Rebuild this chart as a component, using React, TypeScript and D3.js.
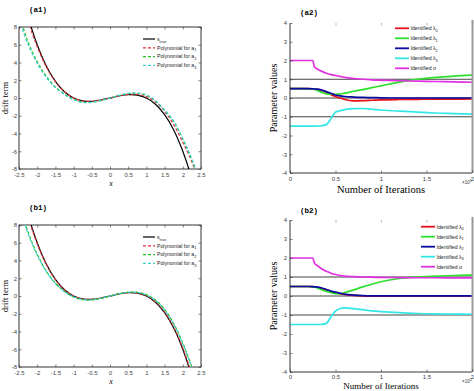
import React, { useEffect, useRef } from 'react';
import * as d3 from 'd3';

// ---- drift panels (a1, b1) ----
const driftX = [-2.5, -2.25, -2, -1.75, -1.5, -1.25, -1, -0.75, -0.5, -0.25, 0, 0.25, 0.5, 0.75, 1, 1.25, 1.5, 1.75, 2, 2.25, 2.5];
const driftTrue = [13.1, 9.14, 6, 3.61, 1.88, 0.7, 0, -0.33, -0.38, -0.23, 0, 0.23, 0.38, 0.33, 0, -0.7, -1.88, -3.61, -6, -9.14, -13.1];
const a1Poly1 = [12.5, 8.7, 5.8, 3.5, 1.85, 0.7, 0, -0.33, -0.37, -0.22, 0, 0.24, 0.4, 0.4, 0.15, -0.45, -1.5, -3.0, -5.0, -7.2, -10];
const a1Poly2 = [9.5, 6.3, 4.1, 2.45, 1.25, 0.45, -0.15, -0.45, -0.48, -0.28, 0, 0.28, 0.5, 0.52, 0.3, -0.35, -1.4, -2.65, -4.6, -7.0, -9.7];
const a1Poly3 = [8.8, 6.0, 3.9, 2.3, 1.15, 0.4, -0.2, -0.5, -0.5, -0.3, 0, 0.3, 0.52, 0.55, 0.35, -0.3, -1.35, -2.6, -4.6, -6.9, -9.6];
const b1Poly1 = [12.6, 8.9, 5.9, 3.55, 1.85, 0.68, 0, -0.34, -0.38, -0.23, 0, 0.23, 0.37, 0.33, 0.02, -0.66, -1.8, -3.5, -5.85, -8.9, -12.8];
const b1Poly2 = [10.5, 7.2, 4.7, 2.8, 1.45, 0.5, -0.12, -0.42, -0.45, -0.26, 0, 0.26, 0.43, 0.42, 0.15, -0.45, -1.5, -3.1, -5.3, -8.0, -11.3];
const b1Poly3 = [10.2, 7.0, 4.6, 2.75, 1.42, 0.5, -0.1, -0.4, -0.44, -0.25, 0, 0.25, 0.42, 0.4, 0.12, -0.5, -1.6, -3.2, -5.4, -8.1, -11.5];
const driftTicksX = [-2.5, -2, -1.5, -1, -0.5, 0, 0.5, 1, 1.5, 2, 2.5];
const driftTicksY = [-8, -6, -4, -2, 0, 2, 4, 6, 8];

// ---- parameter panels (a2, b2), iterations in units of 10^5 ----
const iterX = [0, 0.1, 0.2, 0.25, 0.27, 0.3, 0.35, 0.4, 0.45, 0.5, 0.55, 0.6, 0.7, 0.8, 0.9, 1.0, 1.2, 1.4, 1.6, 1.8, 2.0];
const a2Lambda0 = [0.5, 0.5, 0.5, 0.48, 0.47, 0.45, 0.4, 0.3, 0.18, 0.08, 0.0, -0.08, -0.15, -0.14, -0.12, -0.1, -0.08, -0.07, -0.06, -0.06, -0.05];
const a2Lambda1 = [0.5, 0.5, 0.49, 0.48, 0.46, 0.4, 0.3, 0.22, 0.2, 0.2, 0.22, 0.26, 0.36, 0.45, 0.55, 0.65, 0.85, 1.0, 1.1, 1.17, 1.22];
const a2Lambda2 = [0.5, 0.5, 0.5, 0.49, 0.48, 0.47, 0.42, 0.34, 0.25, 0.16, 0.11, 0.08, 0.05, 0.03, 0.02, 0.01, 0, 0, 0, 0, 0];
const a2Lambda3 = [-1.5, -1.5, -1.5, -1.5, -1.5, -1.5, -1.48, -1.42, -1.1, -0.75, -0.68, -0.62, -0.57, -0.56, -0.6, -0.64, -0.7, -0.75, -0.8, -0.83, -0.86];
const a2Sigma = [2, 2, 2, 2, 1.65, 1.55, 1.42, 1.32, 1.25, 1.2, 1.15, 1.1, 1.04, 1.0, 0.97, 0.95, 0.92, 0.9, 0.88, 0.86, 0.84];
const b2Lambda0 = [0.5, 0.5, 0.5, 0.49, 0.48, 0.46, 0.4, 0.32, 0.24, 0.17, 0.12, 0.08, 0.03, 0, -0.01, -0.01, 0, 0, 0, 0, 0];
const b2Lambda1 = [0.5, 0.5, 0.5, 0.48, 0.46, 0.42, 0.32, 0.24, 0.18, 0.13, 0.12, 0.18, 0.32, 0.48, 0.62, 0.75, 0.92, 1.0, 1.05, 1.08, 1.1];
const b2Lambda2 = [0.5, 0.5, 0.5, 0.49, 0.48, 0.47, 0.42, 0.34, 0.26, 0.2, 0.15, 0.1, 0.05, 0.02, 0.01, 0.01, 0.01, 0.01, 0.01, 0.01, 0.01];
const b2Lambda3 = [-1.5, -1.5, -1.5, -1.5, -1.5, -1.5, -1.49, -1.44, -1.1, -0.8, -0.66, -0.62, -0.66, -0.72, -0.78, -0.82, -0.88, -0.92, -0.94, -0.95, -0.96];
const b2Sigma = [2, 2, 2, 2, 1.72, 1.6, 1.42, 1.3, 1.2, 1.13, 1.08, 1.05, 1.02, 1.0, 0.99, 0.98, 0.97, 0.96, 0.96, 0.95, 0.95];
const iterTicksX = [0, 0.5, 1, 1.5, 2];
const iterTicksY = [-4, -3, -2, -1, 0, 1, 2, 3, 4];
const refLines = [1, 0, -1];

type Box = { left: number; right: number; top: number; bottom: number };
type Series = { base: string; sub?: string; values: number[]; color: string; dash?: string };

const SANS = 'Liberation Sans, Arial, sans-serif';
const SERIF = 'Liberation Serif, Times New Roman, serif';
const fmt = (d: d3.NumberValue) => String(d);

function styleAxis(g: d3.Selection<SVGGElement, unknown, null, undefined>) {
  g.attr('font-size', null).attr('font-family', null);
  g.select('.domain').remove();
  g.selectAll('line').attr('stroke', '#333').attr('stroke-width', 0.6);
  g.selectAll('text').attr('font-size', 6).attr('font-family', SANS).attr('fill', '#444');
}

function Label({ base, sub, x, y, size }: { base: string; sub?: string; x: number; y: number; size: number }) {
  return (
    <text x={x} y={y} fontSize={size} fontFamily={SANS} fill="#222">
      {base}
      {sub && <tspan dy={size * 0.35} fontSize={size * 0.75}>{sub}</tspan>}
    </text>
  );
}

function DriftPanel({ id, box, series, title, titleY, legendTop }: { id: string; box: Box; series: Series[]; title: string; titleY: number; legendTop: number }) {
  const leftRef = useRef<SVGGElement>(null);
  const bottomRef = useRef<SVGGElement>(null);
  const topRef = useRef<SVGGElement>(null);
  const rightRef = useRef<SVGGElement>(null);
  const x = d3.scaleLinear().domain([-2.5, 2.5]).range([box.left, box.right]);
  const y = d3.scaleLinear().domain([-8, 8]).range([box.bottom, box.top]);

  useEffect(() => {
    const l = d3.select(leftRef.current!);
    l.call(d3.axisLeft(y).tickValues(driftTicksY).tickSize(-2.5).tickSizeOuter(0).tickPadding(2).tickFormat(fmt));
    styleAxis(l);
    const b = d3.select(bottomRef.current!);
    b.call(d3.axisBottom(x).tickValues(driftTicksX).tickSize(-2.5).tickSizeOuter(0).tickPadding(4).tickFormat(fmt));
    styleAxis(b);
    const t = d3.select(topRef.current!);
    t.call(d3.axisTop(x).tickValues(driftTicksX).tickSize(-2.5).tickSizeOuter(0).tickFormat(() => ''));
    styleAxis(t);
    const r = d3.select(rightRef.current!);
    r.call(d3.axisRight(y).tickValues(driftTicksY).tickSize(-2.5).tickSizeOuter(0).tickFormat(() => ''));
    styleAxis(r);
  }, []);

  const line = d3.line<number>().x((_, i) => x(driftX[i])).y((d) => y(d)).curve(d3.curveCatmullRom);
  const midY = (box.top + box.bottom) / 2;

  return (
    <g>
      <defs>
        <clipPath id={id}>
          <rect x={box.left} y={box.top} width={box.right - box.left} height={box.bottom - box.top} />
        </clipPath>
      </defs>
      <rect x={box.left} y={box.top} width={box.right - box.left} height={box.bottom - box.top} fill="#fff" stroke="#000" strokeWidth={0.8} />
      <g clipPath={`url(#${id})`}>
        {series.map((s, i) => (
          <path key={i} d={line(s.values) ?? ''} fill="none" stroke={s.color} strokeWidth={1.2} strokeDasharray={s.dash} />
        ))}
      </g>
      <g ref={leftRef} transform={`translate(${box.left},0)`} />
      <g ref={bottomRef} transform={`translate(0,${box.bottom})`} />
      <g ref={topRef} transform={`translate(0,${box.top})`} />
      <g ref={rightRef} transform={`translate(${box.right},0)`} />
      {series.map((s, i) => {
        const ly = legendTop + i * 8.8;
        return (
          <g key={i}>
            <line x1={143} x2={155} y1={ly} y2={ly} stroke={s.color} strokeWidth={1.2} strokeDasharray={s.dash} />
            <Label base={s.base} sub={s.sub} x={157} y={ly + 1.8} size={5.2} />
          </g>
        );
      })}
      <text x={29} y={titleY} fontSize={7.5} fontWeight="bold" fontFamily="Liberation Mono, Courier New, monospace">{title}</text>
      <text x={111} y={box.bottom + 17} fontSize={8} fontStyle="italic" fontFamily={SERIF} textAnchor="middle">x</text>
      <text transform={`translate(8,${midY}) rotate(-90)`} fontSize={8.5} fontFamily={SERIF} textAnchor="middle">drift term</text>
    </g>
  );
}

function ParamPanel({ id, box, series, title, titleY, legend, xTitleY, xTitleSize, tickPad }: { id: string; box: Box; series: Series[]; title: string; titleY: number; legend: { x: number; y: number }; xTitleY: number; xTitleSize: number; tickPad: number }) {
  const leftRef = useRef<SVGGElement>(null);
  const bottomRef = useRef<SVGGElement>(null);
  const topRef = useRef<SVGGElement>(null);
  const x = d3.scaleLinear().domain([0, 2]).range([box.left, box.right]);
  const y = d3.scaleLinear().domain([-4, 4]).range([box.bottom, box.top]);

  useEffect(() => {
    const l = d3.select(leftRef.current!);
    l.call(d3.axisLeft(y).tickValues(iterTicksY).tickSize(-2.5).tickSizeOuter(0).tickPadding(3).tickFormat(fmt));
    styleAxis(l);
    const b = d3.select(bottomRef.current!);
    b.call(d3.axisBottom(x).tickValues(iterTicksX).tickSize(-2.5).tickSizeOuter(0).tickPadding(tickPad).tickFormat(fmt));
    styleAxis(b);
    const t = d3.select(topRef.current!);
    t.call(d3.axisTop(x).tickValues(iterTicksX).tickSize(-2.5).tickSizeOuter(0).tickFormat(() => ''));
    styleAxis(t);
    t.selectAll('line').attr('stroke', '#888');
  }, []);

  const line = d3.line<number>().x((_, i) => x(iterX[i])).y((d) => y(d)).curve(d3.curveMonotoneX);
  const midY = (box.top + box.bottom) / 2;
  const midX = (box.left + box.right) / 2;

  return (
    <g>
      <defs>
        <clipPath id={id}>
          <rect x={box.left} y={box.top} width={box.right - box.left} height={box.bottom - box.top} />
        </clipPath>
      </defs>
      <g clipPath={`url(#${id})`}>
        {refLines.map((v) => (
          <line key={v} x1={box.left} x2={box.right} y1={y(v)} y2={y(v)} stroke="#444" strokeWidth={1} />
        ))}
        {series.map((s, i) => (
          <path key={i} d={line(s.values) ?? ''} fill="none" stroke={s.color} strokeWidth={1.7} />
        ))}
      </g>
      <line x1={box.left} x2={box.left} y1={box.top} y2={box.bottom} stroke="#000" strokeWidth={0.8} />
      <line x1={box.left} x2={box.right} y1={box.bottom} y2={box.bottom} stroke="#000" strokeWidth={0.8} />
      <line x1={box.right + 0.5} x2={box.right + 0.5} y1={box.top - 3} y2={box.bottom} stroke="#999" strokeWidth={2} />
      <g ref={leftRef} transform={`translate(${box.left},0)`} />
      <g ref={bottomRef} transform={`translate(0,${box.bottom})`} />
      <g ref={topRef} transform={`translate(0,${box.top})`} />
      {series.map((s, i) => {
        const ly = legend.y + i * 10;
        return (
          <g key={i}>
            <line x1={legend.x} x2={legend.x + 14} y1={ly} y2={ly} stroke={s.color} strokeWidth={1.8} />
            <Label base={s.base} sub={s.sub} x={legend.x + 15.5} y={ly + 1.8} size={5.2} />
          </g>
        );
      })}
      <text x={box.left + 10} y={titleY} fontSize={7.5} fontWeight="bold" fontFamily="Liberation Mono, Courier New, monospace">{title}</text>
      <text x={midX} y={xTitleY} fontSize={xTitleSize} fontFamily={SERIF} textAnchor="middle">Number of Iterations</text>
      <text x={462} y={box.bottom + 11} fontSize={4.5} fontFamily={SANS} fill="#333">
        ×10<tspan dy={-2} fontSize={3.5}>5</tspan>
      </text>
      <text transform={`translate(${box.left - 13},${midY}) rotate(-90)`} fontSize={10} fontFamily={SERIF} textAnchor="middle">Parameter values</text>
    </g>
  );
}

const RED = '#e8101a';
const GREEN = '#2ee02e';
const BLUE = '#0a0aa0';
const CYAN = '#33e6e6';
const MAGENTA = '#e030e0';

const driftSeries = (p1: number[], p2: number[], p3: number[]): Series[] => [
  { base: 's', sub: 'true', values: driftTrue, color: '#000' },
  { base: 'Polynomial for a', sub: '1', values: p1, color: '#e0303a', dash: '3,2' },
  { base: 'Polynomial for a', sub: '2', values: p2, color: '#22c022', dash: '3,2' },
  { base: 'Polynomial for a', sub: '3', values: p3, color: '#40d0d8', dash: '3,2' },
];

const paramSeries = (l0: number[], l1: number[], l2: number[], l3: number[], s: number[]): Series[] => [
  { base: 'Identified λ', sub: '0', values: l0, color: RED },
  { base: 'Identified λ', sub: '1', values: l1, color: GREEN },
  { base: 'Identified λ', sub: '2', values: l2, color: BLUE },
  { base: 'Identified λ', sub: '3', values: l3, color: CYAN },
  { base: 'Identified σ', values: s, color: MAGENTA },
];

export default function App() {
  return (
    <svg width={474} height={391} style={{ position: 'absolute', left: 0, top: 0, background: '#fff' }}>
      <DriftPanel id="clip-a1" box={{ left: 19, right: 201, top: 27, bottom: 169 }} series={driftSeries(a1Poly1, a1Poly2, a1Poly3)} title="(a1)" titleY={12} legendTop={39} />
      <DriftPanel id="clip-b1" box={{ left: 19, right: 201, top: 225, bottom: 367 }} series={driftSeries(b1Poly1, b1Poly2, b1Poly3)} title="(b1)" titleY={210} legendTop={237} />
      <ParamPanel id="clip-a2" box={{ left: 290, right: 472, top: 23, bottom: 173 }} series={paramSeries(a2Lambda0, a2Lambda1, a2Lambda2, a2Lambda3, a2Sigma)} title="(a2)" titleY={15} legend={{ x: 395, y: 28.3 }} xTitleY={193} xTitleSize={10.5} tickPad={4} />
      <ParamPanel id="clip-b2" box={{ left: 290, right: 472, top: 220, bottom: 372 }} series={paramSeries(b2Lambda0, b2Lambda1, b2Lambda2, b2Lambda3, b2Sigma)} title="(b2)" titleY={213} legend={{ x: 421, y: 226.7 }} xTitleY={388.8} xTitleSize={9} tickPad={2.5} />
    </svg>
  );
}
